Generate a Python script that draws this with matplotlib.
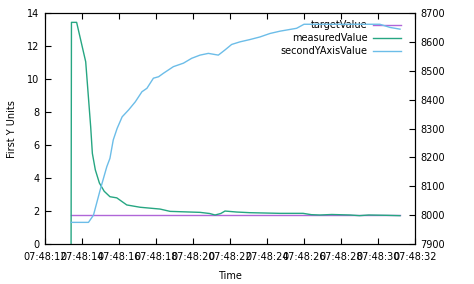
import datetime as dt
import matplotlib
matplotlib.use("Agg")
import matplotlib.pyplot as plt
import matplotlib.dates as mdates

# seconds after 07:48:00
measured_t = [13.41, 13.43, 13.71, 14.20, 14.47, 14.56, 14.72, 14.94, 15.2, 15.51,
              15.88, 16.42, 17.14, 18.22, 18.76, 20.38, 20.9, 21.19, 21.5, 21.73,
              22.36, 23.08, 24.70, 25.95, 26.4, 26.86, 27.5, 28.5, 29.0, 29.5,
              30.5, 31.19]
measured_v = [0, 13.45, 13.45, 11.06, 7.1, 5.5, 4.5, 3.7, 3.2, 2.87,
              2.8, 2.37, 2.23, 2.12, 1.98, 1.92, 1.85, 1.76, 1.85, 2.0,
              1.94, 1.9, 1.86, 1.86, 1.78, 1.76, 1.79, 1.76, 1.72, 1.76,
              1.74, 1.72]

target_t = [13.41, 31.19]
target_v = [1.78, 1.78]

second_t = [13.41, 14.35, 14.62, 14.98, 15.34, 15.51, 15.69, 15.9, 16.17, 16.52,
            16.88, 17.24, 17.51, 17.86, 18.14, 18.4, 18.94, 19.48, 19.93, 20.38,
            20.83, 21.37, 21.73, 22.09, 22.54, 23.08, 23.62, 24.16, 24.70, 25.6,
            26.0, 30.1, 30.65, 31.19]
second_v = [7975, 7975, 8000, 8087, 8168, 8197, 8261, 8301, 8341, 8365,
            8393, 8428, 8440, 8475, 8480, 8492, 8515, 8527, 8544, 8555,
            8561, 8555, 8573, 8592, 8601, 8609, 8618, 8630, 8638, 8648,
            8662, 8662, 8651, 8645]

base = dt.datetime(2020, 1, 1, 7, 48, 0)


def to_time(secs):
    return [base + dt.timedelta(seconds=s) for s in secs]


plt.rcParams['font.family'] = 'DejaVu Sans'
plt.rcParams['font.size'] = 7

fig = plt.figure(figsize=(4.74, 2.84), dpi=100)
ax = fig.add_axes([45 / 474, 40 / 284, 370 / 474, 230.7 / 284])
ax2 = ax.twinx()

l1, = ax.plot(to_time(target_t), target_v, color='#b066d8', lw=1, label='targetValue')
l2, = ax.plot(to_time(measured_t), measured_v, color='#26a682', lw=1, label='measuredValue')
l3, = ax2.plot(to_time(second_t), second_v, color='#6cbde8', lw=1, label='secondYAxisValue')

ax.set_xlim(base + dt.timedelta(seconds=12), base + dt.timedelta(seconds=32))
ax.set_ylim(0, 14)
ax2.set_ylim(7900, 8700)
ax.xaxis.set_major_locator(mdates.SecondLocator(bysecond=range(0, 60, 2)))
ax.xaxis.set_major_formatter(mdates.DateFormatter('%H:%M:%S'))
ax.set_yticks(range(0, 15, 2))
ax2.set_yticks(range(7900, 8701, 100))

ax.tick_params(axis='x', direction='in', top=True, length=4, pad=6)
ax.tick_params(axis='y', direction='in', length=4, pad=4)
ax2.tick_params(axis='y', direction='in', length=4, pad=4)

ax.set_xlabel('Time', labelpad=6.5)
ax.set_ylabel('First Y Units', labelpad=7)

ax.legend(handles=[l1, l2, l3], loc='upper right', bbox_to_anchor=(0.98, 1.0),
          frameon=False, markerfirst=False, handlelength=2.9, handletextpad=0.5,
          labelspacing=0.3, borderaxespad=0.3)

fig.savefig('out.png', dpi=100)
